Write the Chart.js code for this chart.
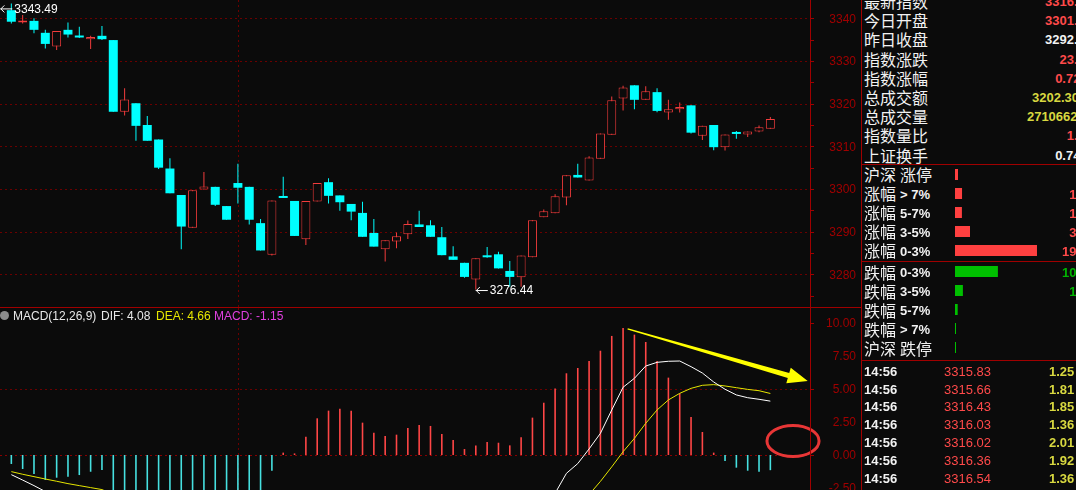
<!DOCTYPE html>
<html>
<head>
<meta charset="utf-8">
<script src="https://cdn.jsdelivr.net/npm/chart.js"></script>
<style>
html, body { margin: 0; padding: 0; background: #0b0b0b; overflow: hidden; }
#wrap { position: relative; width: 1076px; height: 490px; overflow: hidden; background: #0b0b0b;
        font-family: "Liberation Sans", Arial, sans-serif; }
canvas { position: absolute; }
.ln { position: absolute; background: #a00000; }
.t { position: absolute; white-space: nowrap; line-height: 1; transform: translateY(-50%); }
.cjk { font-family: "Noto Sans CJK SC", sans-serif; font-size: 16px; color: #f2f2f2; }
.num { font-size: 13px; font-weight: bold; }
</style>
</head>
<body>
<div id="wrap">
  <canvas id="price" width="860" height="307" style="left:0;top:0"></canvas>
  <canvas id="macd" width="860" height="182" style="left:0;top:308px"></canvas>
  <canvas id="upBars" width="121" height="95" style="left:955px;top:164.5px"></canvas>
  <canvas id="downBars" width="121" height="95" style="left:955px;top:262.2px"></canvas>
  <div class="ln" style="left:0;top:307px;width:861px;height:1px"></div>
  <div class="ln" style="left:810px;top:0;width:1px;height:490px"></div>
  <div class="ln" style="left:861px;top:0;width:1px;height:490px"></div>
  <div class="ln" style="left:861px;top:164px;width:215px;height:1px"></div>
  <div class="ln" style="left:861px;top:261px;width:215px;height:1px"></div>
  <div class="ln" style="left:861px;top:360px;width:215px;height:1px"></div>
  <div id="legend"></div>
  <div id="panel"></div>
</div>
<script>
// ---- candles (one per bar, oldest first) ----
const OPEN  = [3341.9, 3339.0, 3339.4, 3336.6, 3333.4, 3337.3, 3335.9, 3335.1, 3335.9, 3334.9,
               3318.1, 3320.1, 3315.0, 3311.6, 3304.8, 3298.6, 3290.9, 3299.9, 3300.5, 3296.0,
               3301.4, 3300.5, 3292.0, 3284.6, 3298.1, 3297.2, 3288.2, 3297.1, 3301.6, 3298.5,
               3296.5, 3294.4, 3289.7, 3285.9, 3287.7, 3289.4, 3291.7, 3291.5, 3288.7, 3284.2,
               3282.7, 3278.8, 3284.2, 3284.7, 3280.8, 3279.3, 3284.0, 3293.4, 3294.3, 3298.0,
               3303.3, 3302.0, 3307.1, 3312.7, 3321.2, 3324.3, 3320.9, 3322.7, 3317.9, 3318.7,
               3319.6, 3312.5, 3315.0, 3309.8, 3313.1, 3312.8, 3313.5, 3314.1];
const HIGH  = [3343.49, 3340.8, 3340.0, 3337.3, 3337.0, 3339.0, 3338.0, 3335.9, 3338.2, 3334.9,
               3323.6, 3320.1, 3317.1, 3311.6, 3307.2, 3298.6, 3299.7, 3304.0, 3300.5, 3296.0,
               3305.9, 3300.5, 3293.0, 3297.3, 3302.9, 3297.2, 3297.2, 3301.4, 3302.5, 3298.5,
               3296.5, 3297.0, 3293.0, 3288.0, 3289.8, 3292.6, 3294.9, 3292.7, 3291.1, 3286.6,
               3282.7, 3283.8, 3286.4, 3285.3, 3283.1, 3284.4, 3292.7, 3295.2, 3298.8, 3303.2,
               3305.9, 3307.7, 3313.0, 3321.7, 3324.2, 3324.3, 3324.1, 3323.6, 3320.9, 3320.3,
               3319.6, 3314.8, 3315.0, 3312.8, 3313.6, 3313.5, 3314.9, 3316.9];
const LOW   = [3338.8, 3338.8, 3336.5, 3332.9, 3332.6, 3335.5, 3335.4, 3332.8, 3334.9, 3318.1,
               3317.2, 3311.3, 3311.3, 3304.7, 3299.0, 3285.9, 3290.9, 3299.9, 3296.0, 3292.8,
               3296.6, 3291.7, 3285.6, 3284.4, 3297.9, 3289.0, 3286.9, 3297.1, 3296.6, 3294.9,
               3292.7, 3288.8, 3286.5, 3283.0, 3286.1, 3288.3, 3291.1, 3288.8, 3284.5, 3283.4,
               3279.2, 3276.44, 3283.9, 3281.4, 3277.1, 3277.1, 3284.0, 3293.4, 3294.3, 3296.2,
               3302.7, 3302.0, 3307.1, 3312.7, 3318.4, 3318.7, 3320.9, 3318.0, 3316.2, 3317.9,
               3313.0, 3311.5, 3309.1, 3309.0, 3311.8, 3312.2, 3313.3, 3314.1];
const CLOSE = [3339.2, 3339.3, 3337.3, 3334.0, 3337.0, 3336.2, 3335.5, 3335.6, 3335.1, 3318.1,
               3321.0, 3314.8, 3311.3, 3305.0, 3299.0, 3291.2, 3299.7, 3300.6, 3296.3, 3292.8,
               3300.3, 3292.8, 3285.6, 3297.3, 3297.9, 3289.0, 3297.2, 3301.4, 3298.4, 3296.9,
               3294.7, 3288.8, 3286.5, 3288.0, 3288.9, 3291.8, 3291.1, 3288.8, 3284.5, 3283.4,
               3279.4, 3283.8, 3284.0, 3281.4, 3279.4, 3284.4, 3292.7, 3294.8, 3298.3, 3303.2,
               3302.7, 3307.4, 3313.0, 3320.8, 3323.8, 3320.9, 3322.9, 3318.3, 3318.7, 3319.2,
               3313.2, 3314.8, 3309.8, 3312.8, 3312.9, 3313.5, 3314.5, 3316.4];

// ---- MACD(12,26,9) ----
const HIST = [-0.68, -1.06, -1.44, -1.89, -1.72, -1.64, -1.52, -1.27, -1.14, -3.2,
              -3.8, -4.6, -5.0, -5.8, -6.6, -7.0, -6.2, -5.2, -4.6, -4.2,
              -3.2, -2.8, -3.0, -1.19, 0.18, 0.12, 1.39, 2.78, 3.36, 3.51,
              3.36, 2.45, 1.69, 1.44, 1.54, 2.05, 2.27, 2.20, 1.59, 1.14,
              0.45, 0.71, 0.98, 0.93, 0.73, 1.34, 2.83, 3.96, 5.03, 6.19,
              6.59, 7.12, 7.90, 9.02, 9.62, 9.12, 8.56, 7.12, 5.86, 4.67,
              2.88, 1.74, 0.18, -0.45, -0.96, -1.19, -1.26, -1.15];
const DIF  = [-1.49, -1.90, -2.32, -2.77, -2.85, -2.99, -3.10, -3.12, -3.22, -4.6,
              -5.4, -6.3, -7.1, -8.2, -9.3, -10.4, -10.6, -10.6, -10.8, -11.0,
              -10.9, -11.1, -11.6, -10.8, -9.9, -9.8, -9.0, -8.0, -7.4, -7.0,
              -6.7, -6.8, -7.0, -6.9, -6.6, -6.2, -5.9, -5.8, -6.0, -6.2,
              -6.6, -6.4, -6.2, -6.1, -6.1, -5.7, -4.8, -3.8, -2.9, -1.39,
              -0.65, 0.46, 1.64, 3.41, 5.13, 5.81, 6.74, 7.02, 7.10, 7.12,
              6.69, 6.21, 5.53, 4.98, 4.55, 4.34, 4.22, 4.08];
const DEA  = [-1.26, -1.46, -1.64, -1.82, -1.99, -2.17, -2.32, -2.47, -2.62, -3.0,
              -3.5, -4.0, -4.6, -5.3, -6.0, -6.9, -7.5, -8.0, -8.5, -8.9,
              -9.3, -9.7, -10.1, -10.2, -10.0, -9.9, -9.7, -9.4, -9.1, -8.7,
              -8.4, -8.1, -7.9, -7.7, -7.4, -7.2, -7.0, -6.9, -6.8, -6.8,
              -6.8, -6.7, -6.7, -6.6, -6.5, -6.4, -6.2, -5.8, -5.3, -4.6,
              -3.8, -3.0, -2.0, -0.9, 0.25, 1.26, 2.40, 3.41, 4.17, 4.67,
              5.05, 5.28, 5.33, 5.23, 5.10, 4.97, 4.87, 4.66];

const PRICE_TICKS = [3280, 3290, 3300, 3310, 3320, 3330, 3340];
const MACD_TICKS = [-2.5, 0, 2.5, 5, 7.5, 10];
const MACD_GRID = [0, 5];
const DIVIDER_AT = 20;

// ---- right panel ----
const INFO_LABELS = ['最新指数', '今日开盘', '昨日收盘', '指数涨跌', '指数涨幅', '总成交额', '总成交量', '指数量比', '上证换手'];
const INFO_VALUES = ['3316.54', '3301.78', '3292.99', '23.55', '0.72%', '3202.30亿', '271066224', '1.08', '0.74%'];
const INFO_KIND   = ['up', 'up', 'flat', 'up', 'up', 'amt', 'amt', 'up', 'flat'];
const UP_LABELS   = [['沪深', '涨停'], ['涨幅', '> 7%'], ['涨幅', '5-7%'], ['涨幅', '3-5%'], ['涨幅', '0-3%']];
const UP_COUNTS   = [70, 165, 162, 352, 1921];
const DOWN_LABELS = [['跌幅', '0-3%'], ['跌幅', '3-5%'], ['跌幅', '5-7%'], ['跌幅', '> 7%'], ['沪深', '跌停']];
const DOWN_COUNTS = [1005, 185, 63, 15, 8];
const TRADE_TIMES  = ['14:56', '14:56', '14:56', '14:56', '14:56', '14:56', '14:56'];
const TRADE_PRICES = ['3315.83', '3315.66', '3316.43', '3316.03', '3316.02', '3316.36', '3316.54'];
const TRADE_VOLS   = ['1.25', '1.81', '1.85', '1.36', '2.01', '1.92', '1.36'];

const BG = '#0b0b0b', RED = '#f23c3c', CYAN = '#00ffff', GRID = '#6a0000', AXIS = '#a00000';
const TXT_RED = '#ff4a4a', TXT_YEL = '#d8d840', TXT_GRN = '#00b400';
const AXIS_FONT = '12px "Liberation Sans", Arial, sans-serif';

Chart.defaults.font.family = '"Liberation Sans", Arial, sans-serif';

const isUp = CLOSE.map((c, i) => c >= OPEN[i]);

function dotted(ctx, x0, y0, x1, y1, color) {
    ctx.save();
    ctx.strokeStyle = color;
    ctx.lineWidth = 1;
    ctx.setLineDash([2, 3]);
    ctx.beginPath();
    ctx.moveTo(x0, y0);
    ctx.lineTo(x1, y1);
    ctx.stroke();
    ctx.restore();
}

// tick marks and right-aligned labels on the right axis
function axisMarks(chart, marks, labels, fmt) {
    const { ctx, chartArea: a, scales: { y } } = chart;
    ctx.save();
    ctx.strokeStyle = AXIS;
    ctx.lineWidth = 1;
    marks.forEach(v => {
        const py = Math.round(y.getPixelForValue(v)) + 0.5;
        ctx.beginPath();
        ctx.moveTo(a.right, py);
        ctx.lineTo(a.right + 4, py);
        ctx.stroke();
    });
    ctx.fillStyle = AXIS;
    ctx.font = AXIS_FONT;
    ctx.textAlign = 'right';
    ctx.textBaseline = 'middle';
    labels.forEach(v => ctx.fillText(fmt(v), a.right + 46, y.getPixelForValue(v) + 1));
    ctx.restore();
}

function flagLabel(ctx, px, py, text) {
    // small left-pointing arrow, then the value
    ctx.save();
    ctx.strokeStyle = '#ffffff';
    ctx.fillStyle = '#ffffff';
    ctx.lineWidth = 1;
    ctx.beginPath();
    ctx.moveTo(px, py + 0.5);
    ctx.lineTo(px + 12, py + 0.5);
    ctx.moveTo(px + 4, py - 3);
    ctx.lineTo(px + 0.5, py + 0.5);
    ctx.lineTo(px + 4, py + 4);
    ctx.stroke();
    ctx.font = AXIS_FONT;
    ctx.textBaseline = 'middle';
    ctx.fillText(text, px + 14, py + 1);
    ctx.restore();
}

const priceDecor = {
    id: 'priceDecor',
    beforeDatasetsDraw(chart) {
        const { ctx, chartArea: a, scales: { x, y } } = chart;
        PRICE_TICKS.forEach(v => {
            const py = Math.round(y.getPixelForValue(v)) + 0.5;
            dotted(ctx, a.left, py, a.right, py, GRID);
        });
        const vx = Math.round(x.getPixelForValue(DIVIDER_AT)) + 0.5;
        dotted(ctx, vx, a.top, vx, a.bottom, GRID);
    },
    afterDraw(chart) {
        const { ctx, scales: { x, y } } = chart;
        const minor = [];
        PRICE_TICKS.forEach(v => { minor.push(v, v - 5); });
        axisMarks(chart, minor, PRICE_TICKS, v => String(v));

        const hi = Math.max(...HIGH), lo = Math.min(...LOW);
        const hiIdx = HIGH.indexOf(hi), loIdx = LOW.indexOf(lo);
        flagLabel(ctx, x.getPixelForValue(hiIdx) - 11, y.getPixelForValue(hi) + 5, hi.toFixed(2));
        flagLabel(ctx, x.getPixelForValue(loIdx), y.getPixelForValue(lo) + 0.5, lo.toFixed(2));
    }
};

const hiddenY = {
    position: 'right',
    afterFit: s => { s.width = 50; },
    grid: { display: false, drawTicks: false },
    border: { display: false },
    ticks: { display: false }
};

new Chart(document.getElementById('price'), {
    type: 'bar',
    data: {
        datasets: [
            {
                data: OPEN.map((o, i) => ({ x: i, y: [o, CLOSE[i]] })),
                backgroundColor: isUp.map(u => u ? BG : CYAN),
                borderColor: isUp.map(u => u ? RED : CYAN),
                borderWidth: isUp.map(u => u ? 1 : 0),
                borderSkipped: false,
                barThickness: 9,
                minBarLength: 2,
                inflateAmount: 0,
                grouped: false,
                order: 0
            },
            {
                data: LOW.map((l, i) => ({ x: i, y: [l, HIGH[i]] })),
                backgroundColor: isUp.map(u => u ? RED : CYAN),
                borderWidth: 0,
                barThickness: 1,
                inflateAmount: 0,
                grouped: false,
                order: 1
            }
        ]
    },
    options: {
        responsive: false,
        animation: false,
        events: [],
        layout: { padding: 0 },
        plugins: { legend: { display: false }, tooltip: { enabled: false } },
        scales: {
            x: { type: 'linear', min: -1, max: 70.5, offset: false, display: false },
            y: Object.assign({ min: 3272.35, max: 3344.29 }, hiddenY)
        }
    },
    plugins: [priceDecor]
});

// ---- MACD panel ----
const ARROW_FROM = [54.4, 9.55], ARROW_TO = [70.3, 5.6];
const RING_AT = [69.0, 1.06], RING_RX = 2.3, RING_RY = 1.17;

function drawArrow(ctx, x0, y0, x1, y1) {
    const dx = x1 - x0, dy = y1 - y0, len = Math.hypot(dx, dy);
    const ux = dx / len, uy = dy / len, nx = -uy, ny = ux;
    const headLen = 20, headW = 8, w0 = 0.7, w1 = 2.6;
    const bx = x1 - ux * headLen, by = y1 - uy * headLen;
    ctx.beginPath();
    ctx.moveTo(x0 + nx * w0, y0 + ny * w0);
    ctx.lineTo(bx + nx * w1, by + ny * w1);
    ctx.lineTo(bx + nx * headW, by + ny * headW);
    ctx.lineTo(x1, y1);
    ctx.lineTo(bx - nx * headW, by - ny * headW);
    ctx.lineTo(bx - nx * w1, by - ny * w1);
    ctx.lineTo(x0 - nx * w0, y0 - ny * w0);
    ctx.closePath();
    ctx.fill();
}

const macdDecor = {
    id: 'macdDecor',
    beforeDatasetsDraw(chart) {
        const { ctx, chartArea: a, scales: { x, y } } = chart;
        MACD_GRID.forEach(v => {
            const py = Math.round(y.getPixelForValue(v)) + 0.5;
            dotted(ctx, a.left, py, a.right, py, v === 0 ? '#8a0000' : GRID);
        });
        const vx = Math.round(x.getPixelForValue(DIVIDER_AT)) + 0.5;
        dotted(ctx, vx, a.top, vx, a.bottom, GRID);
    },
    afterDraw(chart) {
        const { ctx, scales: { x, y } } = chart;
        axisMarks(chart, MACD_GRID.concat([10]), MACD_TICKS, v => v.toFixed(2));

        ctx.save();
        ctx.fillStyle = '#ffff00';
        drawArrow(ctx, x.getPixelForValue(ARROW_FROM[0]), y.getPixelForValue(ARROW_FROM[1]),
                       x.getPixelForValue(ARROW_TO[0]), y.getPixelForValue(ARROW_TO[1]));
        const cx = x.getPixelForValue(RING_AT[0]), cy = y.getPixelForValue(RING_AT[1]);
        const rx = x.getPixelForValue(RING_AT[0] + RING_RX) - cx;
        const ry = cy - y.getPixelForValue(RING_AT[1] + RING_RY);
        ctx.strokeStyle = '#e83636';
        ctx.lineWidth = 3;
        ctx.beginPath();
        ctx.ellipse(cx, cy, rx, ry, 0, 0, Math.PI * 2);
        ctx.stroke();
        ctx.restore();
    }
};

new Chart(document.getElementById('macd'), {
    type: 'bar',
    data: {
        datasets: [
            {
                type: 'line',
                data: DIF.map((v, i) => ({ x: i, y: v })),
                borderColor: '#ffffff',
                borderWidth: 1,
                pointRadius: 0,
                tension: 0,
                order: 0
            },
            {
                type: 'line',
                data: DEA.map((v, i) => ({ x: i, y: v })),
                borderColor: '#e6e600',
                borderWidth: 1,
                pointRadius: 0,
                tension: 0,
                order: 1
            },
            {
                type: 'bar',
                data: HIST.map((v, i) => ({ x: i, y: [0, v] })),
                backgroundColor: HIST.map(v => v >= 0 ? '#ff4646' : '#46e0e0'),
                borderWidth: 0,
                barThickness: 1.6,
                inflateAmount: 0,
                grouped: false,
                order: 2
            }
        ]
    },
    options: {
        responsive: false,
        animation: false,
        events: [],
        layout: { padding: 0 },
        plugins: { legend: { display: false }, tooltip: { enabled: false } },
        scales: {
            x: { type: 'linear', min: -1, max: 70.5, offset: false, display: false },
            y: Object.assign({ min: -2.652, max: 11.136 }, hiddenY)
        }
    },
    plugins: [macdDecor]
});

// ---- breadth bars ----
function breadthChart(id, labels, counts, color) {
    new Chart(document.getElementById(id), {
        type: 'bar',
        data: {
            labels: labels.map(l => l.join(' ')),
            datasets: [{
                data: counts,
                backgroundColor: color,
                borderWidth: 0,
                barThickness: 11,
                minBarLength: 1,
                inflateAmount: 0
            }]
        },
        options: {
            indexAxis: 'y',
            responsive: false,
            animation: false,
            events: [],
            layout: { padding: 0 },
            plugins: { legend: { display: false }, tooltip: { enabled: false } },
            scales: {
                x: { type: 'linear', min: 0, max: 2835, display: false },
                y: { display: false }
            }
        }
    });
}
breadthChart('upBars', UP_LABELS, UP_COUNTS, '#ff4040');
breadthChart('downBars', DOWN_LABELS, DOWN_COUNTS, '#00c000');

// ---- text ----
function put(parent, text, cls, css) {
    const d = document.createElement('div');
    d.className = 't ' + cls;
    d.textContent = text;
    Object.assign(d.style, css);
    parent.appendChild(d);
    return d;
}

const legend = document.getElementById('legend');
const icon = document.createElement('div');
Object.assign(icon.style, { position: 'absolute', left: '0px', top: '311px', width: '9px', height: '9px',
    borderRadius: '50%', background: '#8c8c8c' });
legend.appendChild(icon);
put(legend, 'MACD(12,26,9)', '', { left: '13px', top: '316px', fontSize: '12px', color: '#e8e8e8' });
put(legend, 'DIF: ' + DIF[DIF.length - 1].toFixed(2), '', { left: '101px', top: '316px', fontSize: '12px', color: '#e8e8e8' });
put(legend, 'DEA: ' + DEA[DEA.length - 1].toFixed(2), '', { left: '156px', top: '316px', fontSize: '12px', color: '#e6e600' });
put(legend, 'MACD: ' + HIST[HIST.length - 1].toFixed(2), '', { left: '214px', top: '316px', fontSize: '12px', color: '#e040e0' });

const panel = document.getElementById('panel');
const kindColor = { up: TXT_RED, flat: '#f2f2f2', amt: TXT_YEL };
INFO_LABELS.forEach((lab, i) => {
    const y = 1 + i * 19.2;
    put(panel, lab, 'cjk', { left: '864px', top: y + 'px' });
    put(panel, INFO_VALUES[i], 'num', { right: '-16px', top: y + 'px', color: kindColor[INFO_KIND[i]] });
});

function breadthText(labels, counts, y0, color) {
    labels.forEach((lab, i) => {
        const y = y0 + i * 19.05;
        put(panel, lab[0], 'cjk', { left: '864px', top: y + 'px' });
        if (/[\u4e00-\u9fff]/.test(lab[1])) {
            put(panel, lab[1], 'cjk', { left: '900px', top: y + 'px' });
        } else {
            put(panel, lab[1], 'num', { left: '900px', top: (y + 0.5) + 'px', color: '#f2f2f2' });
        }
        put(panel, String(counts[i]), 'num', { right: '-15px', top: (y + 0.5) + 'px', color: color });
    });
}
breadthText(UP_LABELS, UP_COUNTS, 174, TXT_RED);
breadthText(DOWN_LABELS, DOWN_COUNTS, 271.7, TXT_GRN);

TRADE_TIMES.forEach((t, i) => {
    const y = 370.7 + i * 17.85;
    put(panel, t, 'num', { left: '864px', top: y + 'px', color: '#f2f2f2' });
    put(panel, TRADE_PRICES[i], 'num', { left: '944px', top: y + 'px', color: TXT_RED, fontWeight: 'normal' });
    put(panel, TRADE_VOLS[i], 'num', { left: '1049px', top: y + 'px', color: TXT_YEL });
});
</script>
</body>
</html>
